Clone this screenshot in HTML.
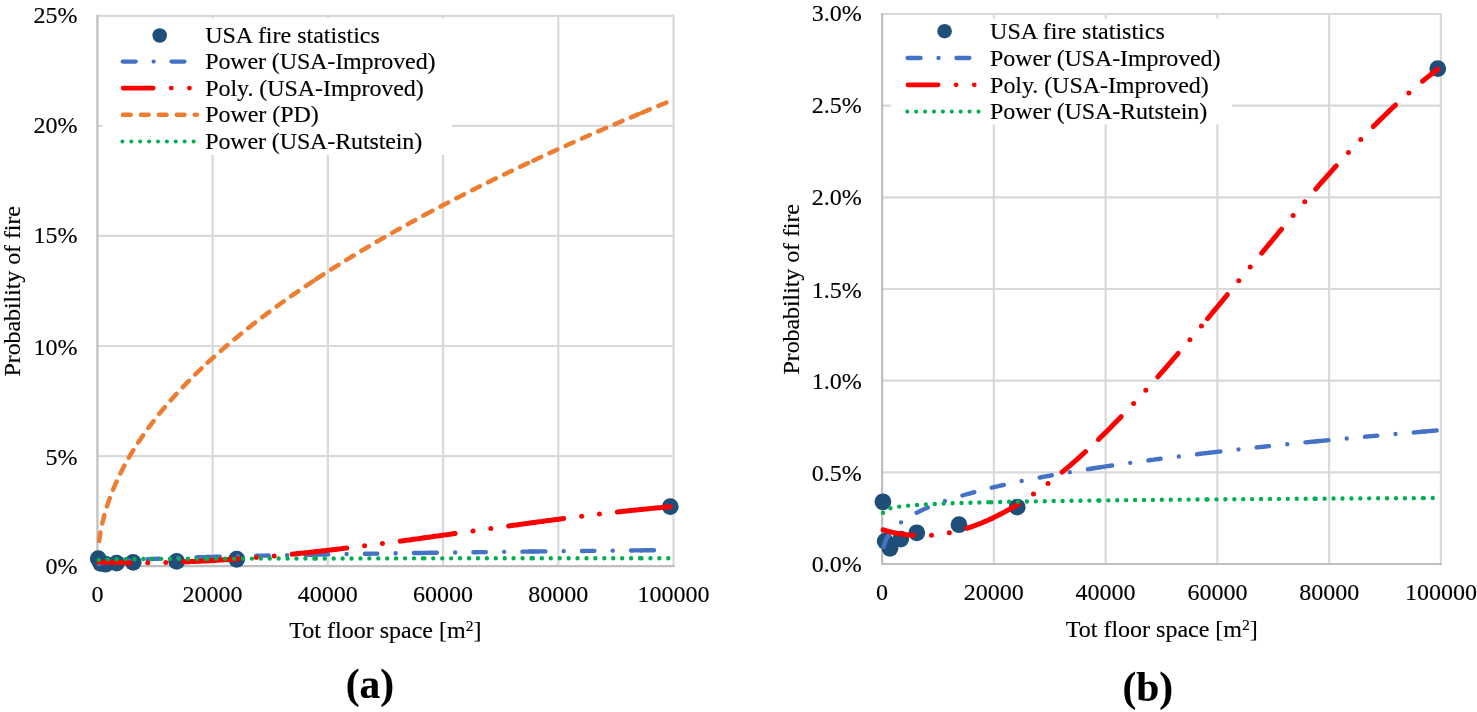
<!DOCTYPE html>
<html lang="en"><head><meta charset="utf-8"><title>Probability of fire vs total floor space</title>
<style>
html,body{margin:0;padding:0;background:#fff;overflow:hidden}
svg{display:block}
svg text{font-family:"Liberation Serif","Times New Roman",serif;font-size:24px;fill:#000;stroke:#000;stroke-width:0.15px}
</style></head><body>
<svg width="1477" height="712" viewBox="0 0 1477 712">
<rect width="1477" height="712" fill="#fff"/>
<line x1="212.62" y1="14.70" x2="212.62" y2="566.10" stroke="#d9d9d9" stroke-width="2.2"/>
<line x1="327.84" y1="14.70" x2="327.84" y2="566.10" stroke="#d9d9d9" stroke-width="2.2"/>
<line x1="443.06" y1="14.70" x2="443.06" y2="566.10" stroke="#d9d9d9" stroke-width="2.2"/>
<line x1="558.28" y1="14.70" x2="558.28" y2="566.10" stroke="#d9d9d9" stroke-width="2.2"/>
<line x1="673.50" y1="14.70" x2="673.50" y2="566.10" stroke="#d9d9d9" stroke-width="2.2"/>
<line x1="97.40" y1="456.04" x2="674.60" y2="456.04" stroke="#d9d9d9" stroke-width="2.2"/>
<line x1="97.40" y1="345.98" x2="674.60" y2="345.98" stroke="#d9d9d9" stroke-width="2.2"/>
<line x1="97.40" y1="235.92" x2="674.60" y2="235.92" stroke="#d9d9d9" stroke-width="2.2"/>
<line x1="97.40" y1="125.86" x2="674.60" y2="125.86" stroke="#d9d9d9" stroke-width="2.2"/>
<line x1="97.40" y1="15.80" x2="674.60" y2="15.80" stroke="#d9d9d9" stroke-width="2.2"/>
<line x1="97.40" y1="14.70" x2="97.40" y2="567.20" stroke="#bfbfbf" stroke-width="2.2"/>
<line x1="96.30" y1="566.10" x2="674.60" y2="566.10" stroke="#bfbfbf" stroke-width="2.2"/>
<circle cx="98.22" cy="558.63" r="8.4" fill="#1f4e79"/>
<circle cx="100.60" cy="563.36" r="8.4" fill="#1f4e79"/>
<circle cx="105.54" cy="564.21" r="8.4" fill="#1f4e79"/>
<circle cx="116.63" cy="563.11" r="8.4" fill="#1f4e79"/>
<circle cx="133.17" cy="562.35" r="8.4" fill="#1f4e79"/>
<circle cx="176.68" cy="561.38" r="8.4" fill="#1f4e79"/>
<circle cx="236.68" cy="559.27" r="8.4" fill="#1f4e79"/>
<circle cx="670.25" cy="506.62" r="8.4" fill="#1f4e79"/>
<path d="M98.80 564.09 L98.80 564.09 L98.81 564.08 L98.82 564.08 L98.84 564.07 L98.86 564.06 L98.88 564.05 L98.91 564.03 L98.95 564.02 L98.99 564.00 L99.03 563.98 L99.08 563.96 L99.13 563.93 L99.19 563.91 L99.25 563.88 L99.31 563.86 L99.38 563.83 L99.46 563.80 L99.54 563.77 L99.62 563.74 L99.71 563.71 L99.81 563.67 L99.91 563.64 L100.01 563.60 L100.12 563.57 L100.23 563.53 L100.34 563.50 L100.47 563.46 L100.59 563.42 L100.72 563.39 L100.86 563.35 L101.00 563.31 L101.14 563.27 L101.29 563.24 L101.44 563.20 L101.60 563.16 L101.76 563.12 L101.93 563.08 L102.10 563.04 L102.27 563.00 L102.45 562.96 L102.64 562.92 L102.83 562.89 L103.02 562.85 L103.22 562.81 L103.43 562.77 L103.63 562.73 L103.85 562.69 L104.06 562.65 L104.28 562.61 L104.51 562.57 L104.74 562.53 L104.98 562.49 L105.22 562.46 L105.46 562.42 L105.71 562.38 L105.96 562.34 L106.22 562.30 L106.48 562.26 L106.75 562.22 L107.02 562.18 L107.30 562.15 L107.58 562.11 L107.87 562.07 L108.16 562.03 L108.45 561.99 L108.75 561.95 L109.05 561.92 L109.36 561.88 L109.67 561.84 L109.99 561.80 L110.31 561.77 L110.64 561.73 L110.97 561.69 L111.31 561.65 L111.65 561.62 L111.99 561.58 L112.34 561.54 L112.70 561.51 L113.06 561.47 L113.42 561.43 L113.79 561.39 L114.16 561.36 L114.54 561.32 L114.92 561.29 L115.30 561.25 L115.69 561.21 L116.09 561.18 L116.49 561.14 L116.89 561.10 L117.30 561.07 L117.71 561.03 L118.13 561.00 L118.56 560.96 L118.98 560.93 L119.41 560.89 L119.85 560.85 L120.29 560.82 L120.74 560.78 L121.19 560.75 L121.64 560.71 L122.10 560.68 L122.56 560.64 L123.03 560.61 L123.50 560.57 L123.98 560.54 L124.46 560.51 L124.95 560.47 L125.44 560.44 L125.94 560.40 L126.44 560.37 L126.94 560.33 L127.45 560.30 L127.97 560.27 L128.48 560.23 L129.01 560.20 L129.53 560.16 L130.07 560.13 L130.60 560.10 L131.15 560.06 L131.69 560.03 L132.24 560.00 L132.80 559.96 L133.36 559.93 L133.92 559.90 L134.49 559.86 L135.06 559.83 L135.64 559.80 L136.22 559.76 L136.81 559.73 L137.40 559.70 L138.00 559.67 L138.60 559.63 L139.20 559.60 L139.81 559.57 L140.43 559.54 L141.05 559.50 L141.67 559.47 L142.30 559.44 L142.93 559.41 L143.57 559.37 L144.21 559.34 L144.86 559.31 L145.51 559.28 L146.16 559.25 L146.82 559.21 L147.49 559.18 L148.16 559.15 L148.83 559.12 L149.51 559.09 L150.19 559.06 L150.88 559.02 L151.57 558.99 L152.27 558.96 L152.97 558.93 L153.68 558.90 L154.39 558.87 L155.10 558.84 L155.82 558.80 L156.54 558.77 L157.27 558.74 L158.01 558.71 L158.74 558.68 L159.49 558.65 L160.23 558.62 L160.98 558.59 L161.74 558.56 L162.50 558.53 L163.27 558.50 L164.04 558.47 L164.81 558.44 L165.59 558.40 L166.37 558.37 L167.16 558.34 L167.95 558.31 L168.75 558.28 L169.55 558.25 L170.36 558.22 L171.17 558.19 L171.99 558.16 L172.81 558.13 L173.63 558.10 L174.46 558.07 L175.29 558.04 L176.13 558.01 L176.97 557.98 L177.82 557.95 L178.67 557.92 L179.53 557.89 L180.39 557.87 L181.26 557.84 L182.13 557.81 L183.00 557.78 L183.88 557.75 L184.76 557.72 L185.65 557.69 L186.55 557.66 L187.44 557.63 L188.35 557.60 L189.25 557.57 L190.16 557.54 L191.08 557.51 L192.00 557.48 L192.93 557.46 L193.86 557.43 L194.79 557.40 L195.73 557.37 L196.67 557.34 L197.62 557.31 L198.57 557.28 L199.53 557.25 L200.49 557.23 L201.46 557.20 L202.43 557.17 L203.40 557.14 L204.38 557.11 L205.37 557.08 L206.36 557.05 L207.35 557.03" fill="none" stroke="#4472c4" stroke-width="4.4" stroke-linecap="round" stroke-dasharray="12.4 18.3 0 18.3"/>
<path d="M207.35 557.03 L208.86 556.98 L210.37 556.94 L211.87 556.90 L213.38 556.86 L214.89 556.82 L216.40 556.77 L217.90 556.73 L219.41 556.69 L220.92 556.65 L222.43 556.61 L223.93 556.58 L225.44 556.54 L226.95 556.50 L228.46 556.46 L229.96 556.42 L231.47 556.38 L232.98 556.35 L234.49 556.31 L236.00 556.27 L237.50 556.23 L239.01 556.20 L240.52 556.16 L242.03 556.13 L243.53 556.09 L245.04 556.05 L246.55 556.02 L248.06 555.98 L249.56 555.95 L251.07 555.91 L252.58 555.88 L254.09 555.85 L255.59 555.81 L257.10 555.78 L258.61 555.75 L260.12 555.71 L261.62 555.68 L263.13 555.65 L264.64 555.61 L266.15 555.58 L267.66 555.55 L269.16 555.52 L270.67 555.48 L272.18 555.45 L273.69 555.42 L275.19 555.39 L276.70 555.36 L278.21 555.33 L279.72 555.30 L281.22 555.27 L282.73 555.23 L284.24 555.20 L285.75 555.17 L287.25 555.14 L288.76 555.11 L290.27 555.08 L291.78 555.05 L293.29 555.03 L294.79 555.00 L296.30 554.97 L297.81 554.94 L299.32 554.91 L300.82 554.88 L302.33 554.85 L303.84 554.82 L305.35 554.79 L306.85 554.77 L308.36 554.74 L309.87 554.71 L311.38 554.68 L312.88 554.65 L314.39 554.63 L315.90 554.60" fill="none" stroke="#4472c4" stroke-width="4.4" stroke-linecap="round" stroke-dasharray="12.4 18.3 0 18.3"/>
<path d="M315.90 554.60 L317.41 554.57 L318.92 554.55 L320.42 554.52 L321.93 554.49 L323.44 554.46 L324.95 554.44 L326.45 554.41 L327.96 554.38 L329.47 554.36 L330.98 554.33 L332.48 554.31 L333.99 554.28 L335.50 554.25 L337.01 554.23 L338.51 554.20 L340.02 554.18 L341.53 554.15 L343.04 554.13 L344.55 554.10 L346.05 554.08 L347.56 554.05 L349.07 554.03 L350.58 554.00 L352.08 553.98 L353.59 553.95 L355.10 553.93 L356.61 553.90 L358.11 553.88 L359.62 553.85 L361.13 553.83 L362.64 553.80 L364.14 553.78 L365.65 553.76 L367.16 553.73 L368.67 553.71 L370.17 553.69 L371.68 553.66 L373.19 553.64 L374.70 553.61 L376.21 553.59 L377.71 553.57 L379.22 553.54 L380.73 553.52 L382.24 553.50 L383.74 553.48 L385.25 553.45 L386.76 553.43 L388.27 553.41 L389.77 553.38 L391.28 553.36 L392.79 553.34 L394.30 553.32 L395.80 553.29 L397.31 553.27 L398.82 553.25 L400.33 553.23 L401.84 553.21 L403.34 553.18 L404.85 553.16 L406.36 553.14 L407.87 553.12 L409.37 553.10 L410.88 553.07 L412.39 553.05 L413.90 553.03 L415.40 553.01 L416.91 552.99 L418.42 552.97 L419.93 552.95 L421.43 552.93 L422.94 552.90 L424.45 552.88" fill="none" stroke="#4472c4" stroke-width="4.4" stroke-linecap="round" stroke-dasharray="12.4 18.3 0 18.3"/>
<path d="M424.45 552.88 L425.96 552.86 L427.47 552.84 L428.97 552.82 L430.48 552.80 L431.99 552.78 L433.50 552.76 L435.00 552.74 L436.51 552.72 L438.02 552.70 L439.53 552.68 L441.03 552.66 L442.54 552.64 L444.05 552.61 L445.56 552.59 L447.06 552.57 L448.57 552.55 L450.08 552.53 L451.59 552.51 L453.10 552.49 L454.60 552.47 L456.11 552.45 L457.62 552.44 L459.13 552.42 L460.63 552.40 L462.14 552.38 L463.65 552.36 L465.16 552.34 L466.66 552.32 L468.17 552.30 L469.68 552.28 L471.19 552.26 L472.69 552.24 L474.20 552.22 L475.71 552.20 L477.22 552.18 L478.73 552.16 L480.23 552.15 L481.74 552.13 L483.25 552.11 L484.76 552.09 L486.26 552.07 L487.77 552.05 L489.28 552.03 L490.79 552.01 L492.29 551.99 L493.80 551.98 L495.31 551.96 L496.82 551.94 L498.32 551.92 L499.83 551.90 L501.34 551.88 L502.85 551.87 L504.35 551.85 L505.86 551.83 L507.37 551.81 L508.88 551.79 L510.39 551.78 L511.89 551.76 L513.40 551.74 L514.91 551.72 L516.42 551.70 L517.92 551.69 L519.43 551.67 L520.94 551.65 L522.45 551.63 L523.95 551.61 L525.46 551.60 L526.97 551.58 L528.48 551.56 L529.98 551.54 L531.49 551.53 L533.00 551.51" fill="none" stroke="#4472c4" stroke-width="4.4" stroke-linecap="round" stroke-dasharray="12.4 18.3 0 18.3"/>
<path d="M533.00 551.51 L534.51 551.49 L536.02 551.47 L537.52 551.46 L539.03 551.44 L540.54 551.42 L542.05 551.41 L543.55 551.39 L545.06 551.37 L546.57 551.35 L548.08 551.34 L549.58 551.32 L551.09 551.30 L552.60 551.29 L554.11 551.27 L555.61 551.25 L557.12 551.24 L558.63 551.22 L560.14 551.20 L561.65 551.19 L563.15 551.17 L564.66 551.15 L566.17 551.14 L567.68 551.12 L569.18 551.10 L570.69 551.09 L572.20 551.07 L573.71 551.05 L575.21 551.04 L576.72 551.02 L578.23 551.00 L579.74 550.99 L581.24 550.97 L582.75 550.95 L584.26 550.94 L585.77 550.92 L587.27 550.91 L588.78 550.89 L590.29 550.87 L591.80 550.86 L593.31 550.84 L594.81 550.83 L596.32 550.81 L597.83 550.79 L599.34 550.78 L600.84 550.76 L602.35 550.75 L603.86 550.73 L605.37 550.71 L606.87 550.70 L608.38 550.68 L609.89 550.67 L611.40 550.65 L612.90 550.64 L614.41 550.62 L615.92 550.61 L617.43 550.59 L618.94 550.57 L620.44 550.56 L621.95 550.54 L623.46 550.53 L624.97 550.51 L626.47 550.50 L627.98 550.48 L629.49 550.47 L631.00 550.45 L632.50 550.44 L634.01 550.42 L635.52 550.41 L637.03 550.39 L638.53 550.38 L640.04 550.36 L641.55 550.35" fill="none" stroke="#4472c4" stroke-width="4.4" stroke-linecap="round" stroke-dasharray="12.4 18.3 0 18.3"/>
<path d="M641.55 550.35 L643.06 550.33 L644.58 550.31 L646.09 550.30 L647.61 550.28 L649.12 550.27 L650.64 550.25 L652.15 550.24 L653.67 550.23 L655.18 550.21 L656.70 550.20 L658.21 550.18 L659.73 550.17 L661.24 550.15 L662.76 550.14 L664.27 550.12 L665.79 550.11 L667.30 550.09 L668.82 550.08 L670.33 550.06" fill="none" stroke="#4472c4" stroke-width="4.4" stroke-linecap="round" stroke-dasharray="12.4 18.3 0 18.3"/>
<path d="M98.80 562.02 L98.80 562.02 L98.81 562.02 L98.82 562.02 L98.84 562.02 L98.86 562.02 L98.88 562.02 L98.91 562.02 L98.95 562.02 L98.99 562.02 L99.03 562.02 L99.08 562.02 L99.13 562.03 L99.19 562.03 L99.25 562.03 L99.31 562.03 L99.38 562.04 L99.46 562.04 L99.54 562.04 L99.62 562.04 L99.71 562.05 L99.81 562.05 L99.91 562.05 L100.01 562.06 L100.12 562.06 L100.23 562.06 L100.34 562.07 L100.47 562.07 L100.59 562.08 L100.72 562.08 L100.86 562.09 L101.00 562.09 L101.14 562.09 L101.29 562.10 L101.44 562.10 L101.60 562.11 L101.76 562.11 L101.93 562.12 L102.10 562.13 L102.27 562.13 L102.45 562.14 L102.64 562.14 L102.83 562.15 L103.02 562.15 L103.22 562.16 L103.43 562.17 L103.63 562.17 L103.85 562.18 L104.06 562.19 L104.28 562.19 L104.51 562.20 L104.74 562.21 L104.98 562.21 L105.22 562.22 L105.46 562.23 L105.71 562.24 L105.96 562.24 L106.22 562.25 L106.48 562.26 L106.75 562.26 L107.02 562.27 L107.30 562.28 L107.58 562.29 L107.87 562.29 L108.16 562.30 L108.45 562.31 L108.75 562.32 L109.05 562.33 L109.36 562.33 L109.67 562.34 L109.99 562.35 L110.31 562.36 L110.64 562.36 L110.97 562.37 L111.31 562.38 L111.65 562.39 L111.99 562.40 L112.34 562.40 L112.70 562.41 L113.06 562.42 L113.42 562.43 L113.79 562.44 L114.16 562.44 L114.54 562.45 L114.92 562.46 L115.30 562.47 L115.69 562.48 L116.09 562.48 L116.49 562.49 L116.89 562.50 L117.30 562.51 L117.71 562.51 L118.13 562.52 L118.56 562.53 L118.98 562.53 L119.41 562.54 L119.85 562.55 L120.29 562.56 L120.74 562.56 L121.19 562.57 L121.64 562.58 L122.10 562.58 L122.56 562.59 L123.03 562.59 L123.50 562.60 L123.98 562.61 L124.46 562.61 L124.95 562.62 L125.44 562.62 L125.94 562.63 L126.44 562.63 L126.94 562.64 L127.45 562.64 L127.97 562.65 L128.48 562.65 L129.01 562.66 L129.53 562.66 L130.07 562.66 L130.60 562.67 L131.15 562.67 L131.69 562.67 L132.24 562.68 L132.80 562.68 L133.36 562.68 L133.92 562.68 L134.49 562.69 L135.06 562.69 L135.64 562.69 L136.22 562.69 L136.81 562.69 L137.40 562.69 L138.00 562.69 L138.60 562.69 L139.20 562.69 L139.81 562.69 L140.43 562.69 L141.05 562.69 L141.67 562.69 L142.30 562.68 L142.93 562.68 L143.57 562.68 L144.21 562.68 L144.86 562.67 L145.51 562.67 L146.16 562.66 L146.82 562.66 L147.49 562.65 L148.16 562.65 L148.83 562.64 L149.51 562.64 L150.19 562.63 L150.88 562.62 L151.57 562.62 L152.27 562.61 L152.97 562.60 L153.68 562.59 L154.39 562.58 L155.10 562.57 L155.82 562.56 L156.54 562.55 L157.27 562.54 L158.01 562.53 L158.74 562.52 L159.49 562.50 L160.23 562.49 L160.98 562.48 L161.74 562.46 L162.50 562.45 L163.27 562.43 L164.04 562.41 L164.81 562.40 L165.59 562.38 L166.37 562.36 L167.16 562.35 L167.95 562.33 L168.75 562.31 L169.55 562.29 L170.36 562.27 L171.17 562.24 L171.99 562.22 L172.81 562.20 L173.63 562.18 L174.46 562.15 L175.29 562.13 L176.13 562.10 L176.97 562.08 L177.82 562.05 L178.67 562.02 L179.53 562.00 L180.39 561.97 L181.26 561.94 L182.13 561.91 L183.00 561.88 L183.88 561.85 L184.76 561.81 L185.65 561.78 L186.55 561.75 L187.44 561.71 L188.35 561.68 L189.25 561.64 L190.16 561.60 L191.08 561.57 L192.00 561.53 L192.93 561.49 L193.86 561.45 L194.79 561.41 L195.73 561.37 L196.67 561.32 L197.62 561.28 L198.57 561.24 L199.53 561.19 L200.49 561.15 L201.46 561.10 L202.43 561.05 L203.40 561.00 L204.38 560.96 L205.37 560.91 L206.36 560.85 L207.35 560.80" fill="none" stroke="#ff0000" stroke-width="5.0" stroke-linecap="round" stroke-dasharray="31 18 0 18 0 18"/>
<path d="M207.35 560.80 L208.86 560.72 L210.37 560.64 L211.87 560.56 L213.38 560.47 L214.89 560.39 L216.40 560.30 L217.90 560.21 L219.41 560.12 L220.92 560.03 L222.43 559.93 L223.93 559.84 L225.44 559.74 L226.95 559.64 L228.46 559.55 L229.96 559.44 L231.47 559.34 L232.98 559.24 L234.49 559.13 L236.00 559.03 L237.50 558.92 L239.01 558.81 L240.52 558.70 L242.03 558.59 L243.53 558.48 L245.04 558.36 L246.55 558.25 L248.06 558.13 L249.56 558.01 L251.07 557.89 L252.58 557.77 L254.09 557.65 L255.59 557.53 L257.10 557.40 L258.61 557.28 L260.12 557.15 L261.62 557.02 L263.13 556.89 L264.64 556.76 L266.15 556.63 L267.66 556.49 L269.16 556.36 L270.67 556.22 L272.18 556.09 L273.69 555.95 L275.19 555.81 L276.70 555.67 L278.21 555.53 L279.72 555.39 L281.22 555.24 L282.73 555.10 L284.24 554.95 L285.75 554.81 L287.25 554.66 L288.76 554.51 L290.27 554.36 L291.78 554.21 L293.29 554.06 L294.79 553.90 L296.30 553.75 L297.81 553.59 L299.32 553.44 L300.82 553.28 L302.33 553.12 L303.84 552.96 L305.35 552.80 L306.85 552.64 L308.36 552.48 L309.87 552.32 L311.38 552.15 L312.88 551.99 L314.39 551.82 L315.90 551.66" fill="none" stroke="#ff0000" stroke-width="5.0" stroke-linecap="round" stroke-dasharray="31 18 0 18 0 18"/>
<path d="M315.90 551.66 L317.41 551.49 L318.92 551.32 L320.42 551.15 L321.93 550.98 L323.44 550.81 L324.95 550.64 L326.45 550.46 L327.96 550.29 L329.47 550.11 L330.98 549.94 L332.48 549.76 L333.99 549.59 L335.50 549.41 L337.01 549.23 L338.51 549.05 L340.02 548.87 L341.53 548.69 L343.04 548.51 L344.55 548.32 L346.05 548.14 L347.56 547.96 L349.07 547.77 L350.58 547.59 L352.08 547.40 L353.59 547.21 L355.10 547.03 L356.61 546.84 L358.11 546.65 L359.62 546.46 L361.13 546.27 L362.64 546.08 L364.14 545.89 L365.65 545.70 L367.16 545.50 L368.67 545.31 L370.17 545.12 L371.68 544.92 L373.19 544.73 L374.70 544.53 L376.21 544.34 L377.71 544.14 L379.22 543.94 L380.73 543.74 L382.24 543.55 L383.74 543.35 L385.25 543.15 L386.76 542.95 L388.27 542.75 L389.77 542.55 L391.28 542.35 L392.79 542.14 L394.30 541.94 L395.80 541.74 L397.31 541.54 L398.82 541.33 L400.33 541.13 L401.84 540.93 L403.34 540.72 L404.85 540.52 L406.36 540.31 L407.87 540.11 L409.37 539.90 L410.88 539.69 L412.39 539.49 L413.90 539.28 L415.40 539.07 L416.91 538.86 L418.42 538.66 L419.93 538.45 L421.43 538.24 L422.94 538.03 L424.45 537.82" fill="none" stroke="#ff0000" stroke-width="5.0" stroke-linecap="round" stroke-dasharray="31 18 0 18 0 18"/>
<path d="M424.45 537.82 L425.96 537.61 L427.47 537.40 L428.97 537.19 L430.48 536.98 L431.99 536.77 L433.50 536.56 L435.00 536.35 L436.51 536.14 L438.02 535.93 L439.53 535.72 L441.03 535.50 L442.54 535.29 L444.05 535.08 L445.56 534.87 L447.06 534.66 L448.57 534.44 L450.08 534.23 L451.59 534.02 L453.10 533.81 L454.60 533.59 L456.11 533.38 L457.62 533.17 L459.13 532.95 L460.63 532.74 L462.14 532.53 L463.65 532.32 L465.16 532.10 L466.66 531.89 L468.17 531.68 L469.68 531.46 L471.19 531.25 L472.69 531.04 L474.20 530.82 L475.71 530.61 L477.22 530.40 L478.73 530.18 L480.23 529.97 L481.74 529.76 L483.25 529.55 L484.76 529.33 L486.26 529.12 L487.77 528.91 L489.28 528.70 L490.79 528.48 L492.29 528.27 L493.80 528.06 L495.31 527.85 L496.82 527.64 L498.32 527.42 L499.83 527.21 L501.34 527.00 L502.85 526.79 L504.35 526.58 L505.86 526.37 L507.37 526.16 L508.88 525.95 L510.39 525.74 L511.89 525.53 L513.40 525.32 L514.91 525.11 L516.42 524.90 L517.92 524.69 L519.43 524.49 L520.94 524.28 L522.45 524.07 L523.95 523.86 L525.46 523.66 L526.97 523.45 L528.48 523.24 L529.98 523.04 L531.49 522.83 L533.00 522.63" fill="none" stroke="#ff0000" stroke-width="5.0" stroke-linecap="round" stroke-dasharray="31 18 0 18 0 18"/>
<path d="M533.00 522.63 L534.51 522.42 L536.02 522.22 L537.52 522.01 L539.03 521.81 L540.54 521.61 L542.05 521.41 L543.55 521.20 L545.06 521.00 L546.57 520.80 L548.08 520.60 L549.58 520.40 L551.09 520.20 L552.60 520.00 L554.11 519.80 L555.61 519.60 L557.12 519.40 L558.63 519.21 L560.14 519.01 L561.65 518.81 L563.15 518.62 L564.66 518.42 L566.17 518.23 L567.68 518.03 L569.18 517.84 L570.69 517.65 L572.20 517.46 L573.71 517.27 L575.21 517.07 L576.72 516.88 L578.23 516.69 L579.74 516.51 L581.24 516.32 L582.75 516.13 L584.26 515.94 L585.77 515.76 L587.27 515.57 L588.78 515.39 L590.29 515.20 L591.80 515.02 L593.31 514.84 L594.81 514.65 L596.32 514.47 L597.83 514.29 L599.34 514.11 L600.84 513.93 L602.35 513.75 L603.86 513.58 L605.37 513.40 L606.87 513.23 L608.38 513.05 L609.89 512.88 L611.40 512.70 L612.90 512.53 L614.41 512.36 L615.92 512.19 L617.43 512.02 L618.94 511.85 L620.44 511.68 L621.95 511.51 L623.46 511.35 L624.97 511.18 L626.47 511.02 L627.98 510.86 L629.49 510.69 L631.00 510.53 L632.50 510.37 L634.01 510.21 L635.52 510.05 L637.03 509.90 L638.53 509.74 L640.04 509.58 L641.55 509.43" fill="none" stroke="#ff0000" stroke-width="5.0" stroke-linecap="round" stroke-dasharray="31 18 0 18 0 18"/>
<path d="M641.55 509.43 L643.06 509.27 L644.58 509.12 L646.09 508.97 L647.61 508.82 L649.12 508.67 L650.64 508.52 L652.15 508.37 L653.67 508.22 L655.18 508.08 L656.70 507.93 L658.21 507.79 L659.73 507.65 L661.24 507.51 L662.76 507.37 L664.27 507.23 L665.79 507.09 L667.30 506.95 L668.82 506.82 L670.33 506.69" fill="none" stroke="#ff0000" stroke-width="5.0" stroke-linecap="round" stroke-dasharray="31 18 0 18 0 18"/>
<path d="M99.10 541.02 L99.10 541.00 L99.11 540.95 L99.12 540.86 L99.14 540.75 L99.16 540.60 L99.18 540.41 L99.21 540.20 L99.25 539.96 L99.29 539.68 L99.33 539.38 L99.38 539.05 L99.43 538.69 L99.49 538.30 L99.55 537.89 L99.61 537.46 L99.68 537.01 L99.76 536.53 L99.84 536.03 L99.92 535.51 L100.01 534.97 L100.11 534.42 L100.21 533.85 L100.31 533.26 L100.42 532.66 L100.53 532.04 L100.64 531.41 L100.77 530.77 L100.89 530.11 L101.02 529.44 L101.16 528.77 L101.30 528.08 L101.44 527.38 L101.59 526.67 L101.74 525.95 L101.90 525.23 L102.06 524.50 L102.23 523.76 L102.40 523.01 L102.57 522.26 L102.75 521.49 L102.94 520.73 L103.13 519.96 L103.32 519.18 L103.52 518.39 L103.73 517.61 L103.93 516.81 L104.15 516.02 L104.36 515.21 L104.58 514.41 L104.81 513.60 L105.04 512.78 L105.28 511.97 L105.52 511.15 L105.76 510.32 L106.01 509.49 L106.26 508.66 L106.52 507.83 L106.78 507.00 L107.05 506.16 L107.32 505.32 L107.60 504.47 L107.88 503.63 L108.17 502.78 L108.46 501.93 L108.75 501.07 L109.05 500.22 L109.35 499.36 L109.66 498.51 L109.97 497.65 L110.29 496.78 L110.61 495.92 L110.94 495.06 L111.27 494.19 L111.61 493.32 L111.95 492.45 L112.29 491.58 L112.64 490.71 L113.00 489.84 L113.36 488.96 L113.72 488.08 L114.09 487.21 L114.46 486.33 L114.84 485.45 L115.22 484.57 L115.60 483.69 L115.99 482.81 L116.39 481.92 L116.79 481.04 L117.19 480.15 L117.60 479.27 L118.01 478.38 L118.43 477.49 L118.86 476.60 L119.28 475.71 L119.71 474.82 L120.15 473.93 L120.59 473.04 L121.04 472.15 L121.49 471.25 L121.94 470.36 L122.40 469.47 L122.86 468.57 L123.33 467.67 L123.80 466.78 L124.28 465.88 L124.76 464.98 L125.25 464.09 L125.74 463.19 L126.24 462.29 L126.74 461.39 L127.24 460.49 L127.75 459.59 L128.27 458.69 L128.78 457.79 L129.31 456.88 L129.83 455.98 L130.37 455.08 L130.90 454.18 L131.45 453.27 L131.99 452.37 L132.54 451.46 L133.10 450.56 L133.66 449.65 L134.22 448.75 L134.79 447.84 L135.36 446.94 L135.94 446.03 L136.52 445.12 L137.11 444.21 L137.70 443.31 L138.30 442.40 L138.90 441.49 L139.50 440.58 L140.11 439.67 L140.73 438.76 L141.35 437.86 L141.97 436.95 L142.60 436.04 L143.23 435.13 L143.87 434.21 L144.51 433.30 L145.16 432.39 L145.81 431.48 L146.46 430.57 L147.12 429.66 L147.79 428.75 L148.46 427.83 L149.13 426.92 L149.81 426.01 L150.49 425.10 L151.18 424.18 L151.87 423.27 L152.57 422.36 L153.27 421.44 L153.98 420.53 L154.69 419.61 L155.40 418.70 L156.12 417.79 L156.84 416.87 L157.57 415.96 L158.31 415.04 L159.04 414.13 L159.79 413.21 L160.53 412.29 L161.28 411.38 L162.04 410.46 L162.80 409.55 L163.57 408.63 L164.34 407.71 L165.11 406.80 L165.89 405.88 L166.67 404.96 L167.46 404.05 L168.25 403.13 L169.05 402.21 L169.85 401.29 L170.66 400.38 L171.47 399.46 L172.29 398.54 L173.11 397.62 L173.93 396.70 L174.76 395.79 L175.59 394.87 L176.43 393.95 L177.27 393.03 L178.12 392.11 L178.97 391.19 L179.83 390.27 L180.69 389.36 L181.56 388.44 L182.43 387.52 L183.30 386.60 L184.18 385.68 L185.06 384.76 L185.95 383.84 L186.85 382.92 L187.74 382.00 L188.65 381.08 L189.55 380.16 L190.46 379.24 L191.38 378.32 L192.30 377.40 L193.23 376.48 L194.16 375.56 L195.09 374.63 L196.03 373.71 L196.97 372.79 L197.92 371.87 L198.87 370.95 L199.83 370.03 L200.79 369.11 L201.76 368.19 L202.73 367.27 L203.70 366.34 L204.68 365.42 L205.67 364.50 L206.66 363.58 L207.65 362.66" fill="none" stroke="#ed7d31" stroke-width="4.5" stroke-linecap="round" stroke-dasharray="8.7 9.1"/>
<path d="M207.65 362.66 L209.16 361.27 L210.67 359.88 L212.17 358.51 L213.68 357.15 L215.19 355.79 L216.70 354.45 L218.20 353.11 L219.71 351.78 L221.22 350.46 L222.73 349.14 L224.23 347.84 L225.74 346.54 L227.25 345.25 L228.76 343.97 L230.26 342.69 L231.77 341.42 L233.28 340.16 L234.79 338.91 L236.30 337.66 L237.80 336.42 L239.31 335.19 L240.82 333.96 L242.33 332.74 L243.83 331.52 L245.34 330.31 L246.85 329.11 L248.36 327.92 L249.86 326.73 L251.37 325.54 L252.88 324.36 L254.39 323.19 L255.89 322.02 L257.40 320.86 L258.91 319.70 L260.42 318.55 L261.92 317.41 L263.43 316.26 L264.94 315.13 L266.45 314.00 L267.96 312.87 L269.46 311.75 L270.97 310.64 L272.48 309.53 L273.99 308.42 L275.49 307.32 L277.00 306.22 L278.51 305.13 L280.02 304.04 L281.52 302.96 L283.03 301.88 L284.54 300.81 L286.05 299.74 L287.55 298.67 L289.06 297.61 L290.57 296.55 L292.08 295.50 L293.59 294.45 L295.09 293.40 L296.60 292.36 L298.11 291.32 L299.62 290.29 L301.12 289.26 L302.63 288.23 L304.14 287.21 L305.65 286.19 L307.15 285.18 L308.66 284.17 L310.17 283.16 L311.68 282.16 L313.18 281.15 L314.69 280.16 L316.20 279.16" fill="none" stroke="#ed7d31" stroke-width="4.5" stroke-linecap="round" stroke-dasharray="8.7 9.1"/>
<path d="M316.20 279.16 L317.71 278.17 L319.22 277.19 L320.72 276.20 L322.23 275.22 L323.74 274.25 L325.25 273.27 L326.75 272.30 L328.26 271.33 L329.77 270.37 L331.28 269.41 L332.78 268.45 L334.29 267.50 L335.80 266.54 L337.31 265.60 L338.81 264.65 L340.32 263.71 L341.83 262.77 L343.34 261.83 L344.85 260.90 L346.35 259.96 L347.86 259.03 L349.37 258.11 L350.88 257.19 L352.38 256.27 L353.89 255.35 L355.40 254.43 L356.91 253.52 L358.41 252.61 L359.92 251.70 L361.43 250.80 L362.94 249.90 L364.44 249.00 L365.95 248.10 L367.46 247.21 L368.97 246.31 L370.48 245.42 L371.98 244.54 L373.49 243.65 L375.00 242.77 L376.51 241.89 L378.01 241.01 L379.52 240.14 L381.03 239.27 L382.54 238.40 L384.04 237.53 L385.55 236.66 L387.06 235.80 L388.57 234.94 L390.07 234.08 L391.58 233.22 L393.09 232.37 L394.60 231.51 L396.10 230.66 L397.61 229.81 L399.12 228.97 L400.63 228.12 L402.14 227.28 L403.64 226.44 L405.15 225.60 L406.66 224.77 L408.17 223.93 L409.67 223.10 L411.18 222.27 L412.69 221.44 L414.20 220.62 L415.70 219.79 L417.21 218.97 L418.72 218.15 L420.23 217.33 L421.73 216.52 L423.24 215.70 L424.75 214.89" fill="none" stroke="#ed7d31" stroke-width="4.5" stroke-linecap="round" stroke-dasharray="8.7 9.1"/>
<path d="M424.75 214.89 L426.26 214.08 L427.77 213.27 L429.27 212.47 L430.78 211.66 L432.29 210.86 L433.80 210.06 L435.30 209.26 L436.81 208.46 L438.32 207.66 L439.83 206.87 L441.33 206.07 L442.84 205.28 L444.35 204.49 L445.86 203.71 L447.36 202.92 L448.87 202.14 L450.38 201.36 L451.89 200.57 L453.40 199.80 L454.90 199.02 L456.41 198.24 L457.92 197.47 L459.43 196.70 L460.93 195.92 L462.44 195.15 L463.95 194.39 L465.46 193.62 L466.96 192.86 L468.47 192.09 L469.98 191.33 L471.49 190.57 L472.99 189.81 L474.50 189.06 L476.01 188.30 L477.52 187.55 L479.02 186.79 L480.53 186.04 L482.04 185.29 L483.55 184.54 L485.06 183.80 L486.56 183.05 L488.07 182.31 L489.58 181.57 L491.09 180.83 L492.59 180.09 L494.10 179.35 L495.61 178.61 L497.12 177.88 L498.62 177.14 L500.13 176.41 L501.64 175.68 L503.15 174.95 L504.65 174.22 L506.16 173.49 L507.67 172.77 L509.18 172.04 L510.69 171.32 L512.19 170.60 L513.70 169.88 L515.21 169.16 L516.72 168.44 L518.22 167.72 L519.73 167.01 L521.24 166.29 L522.75 165.58 L524.25 164.87 L525.76 164.16 L527.27 163.45 L528.78 162.74 L530.28 162.04 L531.79 161.33 L533.30 160.63" fill="none" stroke="#ed7d31" stroke-width="4.5" stroke-linecap="round" stroke-dasharray="8.7 9.1"/>
<path d="M533.30 160.63 L534.81 159.92 L536.32 159.22 L537.82 158.52 L539.33 157.82 L540.84 157.12 L542.35 156.43 L543.85 155.73 L545.36 155.04 L546.87 154.34 L548.38 153.65 L549.88 152.96 L551.39 152.27 L552.90 151.58 L554.41 150.89 L555.91 150.20 L557.42 149.52 L558.93 148.83 L560.44 148.15 L561.95 147.47 L563.45 146.79 L564.96 146.11 L566.47 145.43 L567.98 144.75 L569.48 144.07 L570.99 143.40 L572.50 142.72 L574.01 142.05 L575.51 141.38 L577.02 140.71 L578.53 140.04 L580.04 139.37 L581.54 138.70 L583.05 138.03 L584.56 137.37 L586.07 136.70 L587.57 136.04 L589.08 135.37 L590.59 134.71 L592.10 134.05 L593.61 133.39 L595.11 132.73 L596.62 132.07 L598.13 131.42 L599.64 130.76 L601.14 130.10 L602.65 129.45 L604.16 128.80 L605.67 128.15 L607.17 127.49 L608.68 126.84 L610.19 126.19 L611.70 125.55 L613.20 124.90 L614.71 124.25 L616.22 123.61 L617.73 122.96 L619.24 122.32 L620.74 121.68 L622.25 121.03 L623.76 120.39 L625.27 119.75 L626.77 119.11 L628.28 118.48 L629.79 117.84 L631.30 117.20 L632.80 116.57 L634.31 115.93 L635.82 115.30 L637.33 114.66 L638.83 114.03 L640.34 113.40 L641.85 112.77" fill="none" stroke="#ed7d31" stroke-width="4.5" stroke-linecap="round" stroke-dasharray="8.7 9.1"/>
<path d="M641.85 112.77 L643.41 112.12 L644.97 111.47 L646.52 110.82 L648.08 110.18 L649.64 109.53 L651.20 108.88 L652.75 108.24 L654.31 107.59 L655.87 106.95 L657.43 106.31 L658.99 105.67 L660.54 105.03 L662.10 104.39 L663.66 103.75 L665.22 103.11 L666.77 102.48 L668.33 101.84" fill="none" stroke="#ed7d31" stroke-width="4.5" stroke-linecap="round" stroke-dasharray="8.7 9.1"/>
<path d="M98.75 559.88 L98.75 559.88 L98.76 559.88 L98.77 559.88 L98.79 559.88 L98.81 559.87 L98.83 559.87 L98.86 559.86 L98.90 559.86 L98.94 559.85 L98.98 559.84 L99.03 559.84 L99.08 559.83 L99.14 559.82 L99.20 559.81 L99.26 559.80 L99.33 559.79 L99.41 559.78 L99.49 559.77 L99.57 559.76 L99.66 559.75 L99.76 559.74 L99.86 559.73 L99.96 559.72 L100.07 559.71 L100.18 559.70 L100.29 559.69 L100.42 559.68 L100.54 559.67 L100.67 559.66 L100.81 559.65 L100.95 559.64 L101.09 559.63 L101.24 559.62 L101.39 559.61 L101.55 559.60 L101.71 559.59 L101.88 559.58 L102.05 559.57 L102.22 559.56 L102.40 559.55 L102.59 559.54 L102.78 559.53 L102.97 559.52 L103.17 559.51 L103.38 559.50 L103.58 559.49 L103.80 559.48 L104.01 559.47 L104.23 559.46 L104.46 559.46 L104.69 559.45 L104.93 559.44 L105.17 559.43 L105.41 559.42 L105.66 559.41 L105.91 559.41 L106.17 559.40 L106.43 559.39 L106.70 559.38 L106.97 559.37 L107.25 559.37 L107.53 559.36 L107.82 559.35 L108.11 559.34 L108.40 559.34 L108.70 559.33 L109.00 559.32 L109.31 559.32 L109.62 559.31 L109.94 559.30 L110.26 559.29 L110.59 559.29 L110.92 559.28 L111.26 559.27 L111.60 559.27 L111.94 559.26 L112.29 559.25 L112.65 559.25 L113.01 559.24 L113.37 559.24 L113.74 559.23 L114.11 559.22 L114.49 559.22 L114.87 559.21 L115.25 559.21 L115.64 559.20 L116.04 559.19 L116.44 559.19 L116.84 559.18 L117.25 559.18 L117.66 559.17 L118.08 559.16 L118.51 559.16 L118.93 559.15 L119.36 559.15 L119.80 559.14 L120.24 559.14 L120.69 559.13 L121.14 559.13 L121.59 559.12 L122.05 559.12 L122.51 559.11 L122.98 559.11 L123.45 559.10 L123.93 559.10 L124.41 559.09 L124.90 559.08 L125.39 559.08 L125.89 559.08 L126.39 559.07 L126.89 559.07 L127.40 559.06 L127.92 559.06 L128.43 559.05 L128.96 559.05 L129.48 559.04 L130.02 559.04 L130.55 559.03 L131.10 559.03 L131.64 559.02 L132.19 559.02 L132.75 559.01 L133.31 559.01 L133.87 559.01 L134.44 559.00 L135.01 559.00 L135.59 558.99 L136.17 558.99 L136.76 558.98 L137.35 558.98 L137.95 558.98 L138.55 558.97 L139.15 558.97 L139.76 558.96 L140.38 558.96 L141.00 558.95 L141.62 558.95 L142.25 558.95 L142.88 558.94 L143.52 558.94 L144.16 558.93 L144.81 558.93 L145.46 558.93 L146.11 558.92 L146.77 558.92 L147.44 558.91 L148.11 558.91 L148.78 558.91 L149.46 558.90 L150.14 558.90 L150.83 558.90 L151.52 558.89 L152.22 558.89 L152.92 558.89 L153.63 558.88 L154.34 558.88 L155.05 558.87 L155.77 558.87 L156.49 558.87 L157.22 558.86 L157.96 558.86 L158.69 558.86 L159.44 558.85 L160.18 558.85 L160.93 558.85 L161.69 558.84 L162.45 558.84 L163.22 558.84 L163.99 558.83 L164.76 558.83 L165.54 558.83 L166.32 558.82 L167.11 558.82 L167.90 558.82 L168.70 558.81 L169.50 558.81 L170.31 558.81 L171.12 558.80 L171.94 558.80 L172.76 558.80 L173.58 558.79 L174.41 558.79 L175.24 558.79 L176.08 558.78 L176.92 558.78 L177.77 558.78 L178.62 558.77 L179.48 558.77 L180.34 558.77 L181.21 558.77 L182.08 558.76 L182.95 558.76 L183.83 558.76 L184.71 558.75 L185.60 558.75 L186.50 558.75 L187.39 558.74 L188.30 558.74 L189.20 558.74 L190.11 558.74 L191.03 558.73 L191.95 558.73 L192.88 558.73 L193.81 558.72 L194.74 558.72 L195.68 558.72 L196.62 558.72 L197.57 558.71 L198.52 558.71 L199.48 558.71 L200.44 558.70 L201.41 558.70 L202.38 558.70 L203.35 558.70 L204.33 558.69 L205.32 558.69 L206.31 558.69 L207.30 558.69" fill="none" stroke="#00b050" stroke-width="4.4" stroke-linecap="round" stroke-dasharray="0 8.92"/>
<path d="M207.30 558.69 L208.81 558.68 L210.32 558.68 L211.82 558.67 L213.33 558.67 L214.84 558.67 L216.35 558.66 L217.85 558.66 L219.36 558.65 L220.87 558.65 L222.38 558.65 L223.88 558.64 L225.39 558.64 L226.90 558.64 L228.41 558.63 L229.91 558.63 L231.42 558.63 L232.93 558.62 L234.44 558.62 L235.95 558.62 L237.45 558.61 L238.96 558.61 L240.47 558.61 L241.98 558.60 L243.48 558.60 L244.99 558.60 L246.50 558.59 L248.01 558.59 L249.51 558.59 L251.02 558.59 L252.53 558.58 L254.04 558.58 L255.54 558.58 L257.05 558.57 L258.56 558.57 L260.07 558.57 L261.58 558.57 L263.08 558.56 L264.59 558.56 L266.10 558.56 L267.61 558.55 L269.11 558.55 L270.62 558.55 L272.13 558.55 L273.64 558.54 L275.14 558.54 L276.65 558.54 L278.16 558.54 L279.67 558.53 L281.17 558.53 L282.68 558.53 L284.19 558.53 L285.70 558.52 L287.20 558.52 L288.71 558.52 L290.22 558.52 L291.73 558.51 L293.24 558.51 L294.74 558.51 L296.25 558.51 L297.76 558.50 L299.27 558.50 L300.77 558.50 L302.28 558.50 L303.79 558.50 L305.30 558.49 L306.80 558.49 L308.31 558.49 L309.82 558.49 L311.33 558.49 L312.83 558.48 L314.34 558.48 L315.85 558.48" fill="none" stroke="#00b050" stroke-width="4.4" stroke-linecap="round" stroke-dasharray="0 8.92"/>
<path d="M315.85 558.48 L317.36 558.48 L318.87 558.47 L320.37 558.47 L321.88 558.47 L323.39 558.47 L324.90 558.47 L326.40 558.46 L327.91 558.46 L329.42 558.46 L330.93 558.46 L332.43 558.46 L333.94 558.45 L335.45 558.45 L336.96 558.45 L338.46 558.45 L339.97 558.45 L341.48 558.44 L342.99 558.44 L344.50 558.44 L346.00 558.44 L347.51 558.44 L349.02 558.44 L350.53 558.43 L352.03 558.43 L353.54 558.43 L355.05 558.43 L356.56 558.43 L358.06 558.42 L359.57 558.42 L361.08 558.42 L362.59 558.42 L364.09 558.42 L365.60 558.42 L367.11 558.41 L368.62 558.41 L370.12 558.41 L371.63 558.41 L373.14 558.41 L374.65 558.41 L376.16 558.40 L377.66 558.40 L379.17 558.40 L380.68 558.40 L382.19 558.40 L383.69 558.40 L385.20 558.39 L386.71 558.39 L388.22 558.39 L389.72 558.39 L391.23 558.39 L392.74 558.39 L394.25 558.38 L395.75 558.38 L397.26 558.38 L398.77 558.38 L400.28 558.38 L401.79 558.38 L403.29 558.38 L404.80 558.37 L406.31 558.37 L407.82 558.37 L409.32 558.37 L410.83 558.37 L412.34 558.37 L413.85 558.36 L415.35 558.36 L416.86 558.36 L418.37 558.36 L419.88 558.36 L421.38 558.36 L422.89 558.36 L424.40 558.35" fill="none" stroke="#00b050" stroke-width="4.4" stroke-linecap="round" stroke-dasharray="0 8.92"/>
<path d="M424.40 558.35 L425.91 558.35 L427.42 558.35 L428.92 558.35 L430.43 558.35 L431.94 558.35 L433.45 558.35 L434.95 558.34 L436.46 558.34 L437.97 558.34 L439.48 558.34 L440.98 558.34 L442.49 558.34 L444.00 558.34 L445.51 558.34 L447.01 558.33 L448.52 558.33 L450.03 558.33 L451.54 558.33 L453.05 558.33 L454.55 558.33 L456.06 558.33 L457.57 558.32 L459.08 558.32 L460.58 558.32 L462.09 558.32 L463.60 558.32 L465.11 558.32 L466.61 558.32 L468.12 558.32 L469.63 558.31 L471.14 558.31 L472.64 558.31 L474.15 558.31 L475.66 558.31 L477.17 558.31 L478.68 558.31 L480.18 558.31 L481.69 558.30 L483.20 558.30 L484.71 558.30 L486.21 558.30 L487.72 558.30 L489.23 558.30 L490.74 558.30 L492.24 558.30 L493.75 558.29 L495.26 558.29 L496.77 558.29 L498.27 558.29 L499.78 558.29 L501.29 558.29 L502.80 558.29 L504.30 558.29 L505.81 558.29 L507.32 558.28 L508.83 558.28 L510.34 558.28 L511.84 558.28 L513.35 558.28 L514.86 558.28 L516.37 558.28 L517.87 558.28 L519.38 558.28 L520.89 558.27 L522.40 558.27 L523.90 558.27 L525.41 558.27 L526.92 558.27 L528.43 558.27 L529.93 558.27 L531.44 558.27 L532.95 558.27" fill="none" stroke="#00b050" stroke-width="4.4" stroke-linecap="round" stroke-dasharray="0 8.92"/>
<path d="M532.95 558.27 L534.46 558.26 L535.97 558.26 L537.47 558.26 L538.98 558.26 L540.49 558.26 L542.00 558.26 L543.50 558.26 L545.01 558.26 L546.52 558.26 L548.03 558.25 L549.53 558.25 L551.04 558.25 L552.55 558.25 L554.06 558.25 L555.56 558.25 L557.07 558.25 L558.58 558.25 L560.09 558.25 L561.60 558.25 L563.10 558.24 L564.61 558.24 L566.12 558.24 L567.63 558.24 L569.13 558.24 L570.64 558.24 L572.15 558.24 L573.66 558.24 L575.16 558.24 L576.67 558.24 L578.18 558.23 L579.69 558.23 L581.19 558.23 L582.70 558.23 L584.21 558.23 L585.72 558.23 L587.23 558.23 L588.73 558.23 L590.24 558.23 L591.75 558.23 L593.26 558.22 L594.76 558.22 L596.27 558.22 L597.78 558.22 L599.29 558.22 L600.79 558.22 L602.30 558.22 L603.81 558.22 L605.32 558.22 L606.82 558.22 L608.33 558.22 L609.84 558.21 L611.35 558.21 L612.85 558.21 L614.36 558.21 L615.87 558.21 L617.38 558.21 L618.89 558.21 L620.39 558.21 L621.90 558.21 L623.41 558.21 L624.92 558.21 L626.42 558.20 L627.93 558.20 L629.44 558.20 L630.95 558.20 L632.45 558.20 L633.96 558.20 L635.47 558.20 L636.98 558.20 L638.48 558.20 L639.99 558.20 L641.50 558.20" fill="none" stroke="#00b050" stroke-width="4.4" stroke-linecap="round" stroke-dasharray="0 8.92"/>
<path d="M641.50 558.20 L643.02 558.19 L644.53 558.19 L646.05 558.19 L647.57 558.19 L649.09 558.19 L650.60 558.19 L652.12 558.19 L653.64 558.19 L655.16 558.19 L656.67 558.19 L658.19 558.19 L659.71 558.18 L661.23 558.18 L662.74 558.18 L664.26 558.18 L665.78 558.18 L667.30 558.18 L668.81 558.18 L670.33 558.18" fill="none" stroke="#00b050" stroke-width="4.4" stroke-linecap="round" stroke-dasharray="0 8.92"/>
<line x1="993.86" y1="12.90" x2="993.86" y2="564.00" stroke="#d9d9d9" stroke-width="2.2"/>
<line x1="1105.62" y1="12.90" x2="1105.62" y2="564.00" stroke="#d9d9d9" stroke-width="2.2"/>
<line x1="1217.38" y1="12.90" x2="1217.38" y2="564.00" stroke="#d9d9d9" stroke-width="2.2"/>
<line x1="1329.14" y1="12.90" x2="1329.14" y2="564.00" stroke="#d9d9d9" stroke-width="2.2"/>
<line x1="1440.90" y1="12.90" x2="1440.90" y2="564.00" stroke="#d9d9d9" stroke-width="2.2"/>
<line x1="882.10" y1="472.33" x2="1442.00" y2="472.33" stroke="#d9d9d9" stroke-width="2.2"/>
<line x1="882.10" y1="380.67" x2="1442.00" y2="380.67" stroke="#d9d9d9" stroke-width="2.2"/>
<line x1="882.10" y1="289.00" x2="1442.00" y2="289.00" stroke="#d9d9d9" stroke-width="2.2"/>
<line x1="882.10" y1="197.33" x2="1442.00" y2="197.33" stroke="#d9d9d9" stroke-width="2.2"/>
<line x1="882.10" y1="105.67" x2="1442.00" y2="105.67" stroke="#d9d9d9" stroke-width="2.2"/>
<line x1="882.10" y1="14.00" x2="1442.00" y2="14.00" stroke="#d9d9d9" stroke-width="2.2"/>
<line x1="882.10" y1="12.90" x2="882.10" y2="565.10" stroke="#bfbfbf" stroke-width="2.2"/>
<line x1="881.00" y1="564.00" x2="1442.00" y2="564.00" stroke="#bfbfbf" stroke-width="2.2"/>
<circle cx="882.90" cy="501.80" r="8.4" fill="#1f4e79"/>
<circle cx="885.20" cy="541.20" r="8.4" fill="#1f4e79"/>
<circle cx="890.00" cy="548.30" r="8.4" fill="#1f4e79"/>
<circle cx="900.75" cy="539.10" r="8.4" fill="#1f4e79"/>
<circle cx="916.80" cy="532.80" r="8.4" fill="#1f4e79"/>
<circle cx="959.00" cy="524.70" r="8.4" fill="#1f4e79"/>
<circle cx="1017.20" cy="507.10" r="8.4" fill="#1f4e79"/>
<circle cx="1437.75" cy="68.60" r="8.4" fill="#1f4e79"/>
<path d="M883.55 546.84 L883.55 546.83 L883.56 546.81 L883.57 546.76 L883.59 546.70 L883.61 546.61 L883.63 546.52 L883.66 546.40 L883.70 546.27 L883.73 546.12 L883.78 545.96 L883.83 545.78 L883.88 545.59 L883.93 545.39 L884.00 545.18 L884.06 544.96 L884.13 544.72 L884.21 544.48 L884.29 544.23 L884.37 543.97 L884.46 543.70 L884.55 543.43 L884.65 543.15 L884.75 542.87 L884.86 542.58 L884.97 542.28 L885.09 541.98 L885.21 541.68 L885.33 541.37 L885.46 541.06 L885.60 540.75 L885.74 540.44 L885.88 540.12 L886.03 539.80 L886.18 539.48 L886.34 539.16 L886.50 538.84 L886.67 538.52 L886.84 538.19 L887.01 537.87 L887.19 537.54 L887.38 537.21 L887.56 536.89 L887.76 536.56 L887.96 536.23 L888.16 535.90 L888.37 535.58 L888.58 535.25 L888.79 534.92 L889.01 534.59 L889.24 534.27 L889.47 533.94 L889.70 533.61 L889.94 533.29 L890.19 532.96 L890.43 532.64 L890.69 532.31 L890.94 531.99 L891.21 531.66 L891.47 531.34 L891.74 531.02 L892.02 530.70 L892.30 530.37 L892.58 530.05 L892.87 529.73 L893.16 529.41 L893.46 529.10 L893.77 528.78 L894.07 528.46 L894.38 528.14 L894.70 527.83 L895.02 527.51 L895.35 527.20 L895.68 526.88 L896.01 526.57 L896.35 526.26 L896.69 525.95 L897.04 525.64 L897.40 525.33 L897.75 525.02 L898.11 524.71 L898.48 524.40 L898.85 524.09 L899.23 523.79 L899.61 523.48 L899.99 523.18 L900.38 522.87 L900.77 522.57 L901.17 522.27 L901.58 521.96 L901.98 521.66 L902.40 521.36 L902.81 521.06 L903.23 520.76 L903.66 520.47 L904.09 520.17 L904.52 519.87 L904.96 519.57 L905.41 519.28 L905.85 518.98 L906.31 518.69 L906.76 518.40 L907.23 518.10 L907.69 517.81 L908.16 517.52 L908.64 517.23 L909.12 516.94 L909.60 516.65 L910.09 516.36 L910.59 516.07 L911.09 515.78 L911.59 515.50 L912.10 515.21 L912.61 514.92 L913.12 514.64 L913.65 514.35 L914.17 514.07 L914.70 513.79 L915.24 513.51 L915.78 513.22 L916.32 512.94 L916.87 512.66 L917.42 512.38 L917.98 512.10 L918.54 511.82 L919.11 511.54 L919.68 511.27 L920.25 510.99 L920.83 510.71 L921.42 510.43 L922.01 510.16 L922.60 509.88 L923.20 509.61 L923.80 509.34 L924.41 509.06 L925.02 508.79 L925.64 508.52 L926.26 508.24 L926.89 507.97 L927.52 507.70 L928.15 507.43 L928.79 507.16 L929.44 506.89 L930.09 506.62 L930.74 506.36 L931.40 506.09 L932.06 505.82 L932.73 505.55 L933.40 505.29 L934.07 505.02 L934.75 504.76 L935.44 504.49 L936.13 504.23 L936.82 503.96 L937.52 503.70 L938.22 503.44 L938.93 503.18 L939.64 502.91 L940.36 502.65 L941.08 502.39 L941.81 502.13 L942.54 501.87 L943.27 501.61 L944.01 501.35 L944.76 501.09 L945.51 500.84 L946.26 500.58 L947.02 500.32 L947.78 500.06 L948.55 499.81 L949.32 499.55 L950.09 499.29 L950.87 499.04 L951.66 498.78 L952.45 498.53 L953.24 498.28 L954.04 498.02 L954.85 497.77 L955.65 497.52 L956.47 497.26 L957.28 497.01 L958.10 496.76 L958.93 496.51 L959.76 496.26 L960.60 496.01 L961.44 495.76 L962.28 495.51 L963.13 495.26 L963.98 495.01 L964.84 494.76 L965.70 494.51 L966.57 494.26 L967.44 494.02 L968.32 493.77 L969.20 493.52 L970.08 493.28 L970.97 493.03 L971.87 492.79 L972.77 492.54 L973.67 492.30 L974.58 492.05 L975.49 491.81 L976.41 491.56 L977.33 491.32 L978.26 491.08 L979.19 490.83 L980.12 490.59 L981.06 490.35 L982.01 490.11 L982.95 489.87 L983.91 489.63 L984.87 489.38 L985.83 489.14 L986.80 488.90 L987.77 488.66 L988.74 488.42 L989.72 488.19 L990.71 487.95 L991.70 487.71" fill="none" stroke="#4472c4" stroke-width="4.4" stroke-linecap="round" stroke-dasharray="12.4 18.3 0 18.3"/>
<path d="M991.70 487.71 L993.20 487.35 L994.70 486.99 L996.21 486.64 L997.71 486.29 L999.21 485.94 L1000.71 485.60 L1002.21 485.26 L1003.72 484.92 L1005.22 484.59 L1006.72 484.25 L1008.22 483.92 L1009.72 483.59 L1011.23 483.27 L1012.73 482.95 L1014.23 482.63 L1015.73 482.31 L1017.24 481.99 L1018.74 481.68 L1020.24 481.37 L1021.74 481.06 L1023.24 480.75 L1024.75 480.45 L1026.25 480.14 L1027.75 479.84 L1029.25 479.55 L1030.75 479.25 L1032.26 478.96 L1033.76 478.66 L1035.26 478.37 L1036.76 478.08 L1038.26 477.80 L1039.77 477.51 L1041.27 477.23 L1042.77 476.95 L1044.27 476.67 L1045.77 476.39 L1047.28 476.11 L1048.78 475.84 L1050.28 475.56 L1051.78 475.29 L1053.29 475.02 L1054.79 474.75 L1056.29 474.49 L1057.79 474.22 L1059.29 473.96 L1060.80 473.69 L1062.30 473.43 L1063.80 473.17 L1065.30 472.91 L1066.80 472.66 L1068.31 472.40 L1069.81 472.15 L1071.31 471.89 L1072.81 471.64 L1074.31 471.39 L1075.82 471.14 L1077.32 470.90 L1078.82 470.65 L1080.32 470.40 L1081.82 470.16 L1083.33 469.92 L1084.83 469.68 L1086.33 469.43 L1087.83 469.20 L1089.34 468.96 L1090.84 468.72 L1092.34 468.48 L1093.84 468.25 L1095.34 468.02 L1096.85 467.78 L1098.35 467.55 L1099.85 467.32" fill="none" stroke="#4472c4" stroke-width="4.4" stroke-linecap="round" stroke-dasharray="12.4 18.3 0 18.3"/>
<path d="M1099.85 467.32 L1101.35 467.09 L1102.85 466.86 L1104.36 466.63 L1105.86 466.41 L1107.36 466.18 L1108.86 465.96 L1110.36 465.73 L1111.87 465.51 L1113.37 465.29 L1114.87 465.07 L1116.37 464.85 L1117.88 464.63 L1119.38 464.41 L1120.88 464.20 L1122.38 463.98 L1123.88 463.76 L1125.39 463.55 L1126.89 463.34 L1128.39 463.12 L1129.89 462.91 L1131.39 462.70 L1132.90 462.49 L1134.40 462.28 L1135.90 462.07 L1137.40 461.87 L1138.90 461.66 L1140.41 461.45 L1141.91 461.25 L1143.41 461.04 L1144.91 460.84 L1146.41 460.64 L1147.92 460.43 L1149.42 460.23 L1150.92 460.03 L1152.42 459.83 L1153.92 459.63 L1155.43 459.43 L1156.93 459.23 L1158.43 459.04 L1159.93 458.84 L1161.44 458.65 L1162.94 458.45 L1164.44 458.26 L1165.94 458.06 L1167.44 457.87 L1168.95 457.68 L1170.45 457.48 L1171.95 457.29 L1173.45 457.10 L1174.95 456.91 L1176.46 456.72 L1177.96 456.54 L1179.46 456.35 L1180.96 456.16 L1182.46 455.97 L1183.97 455.79 L1185.47 455.60 L1186.97 455.42 L1188.47 455.23 L1189.97 455.05 L1191.48 454.87 L1192.98 454.68 L1194.48 454.50 L1195.98 454.32 L1197.49 454.14 L1198.99 453.96 L1200.49 453.78 L1201.99 453.60 L1203.49 453.42 L1205.00 453.24 L1206.50 453.07 L1208.00 452.89" fill="none" stroke="#4472c4" stroke-width="4.4" stroke-linecap="round" stroke-dasharray="12.4 18.3 0 18.3"/>
<path d="M1208.00 452.89 L1209.50 452.71 L1211.00 452.54 L1212.51 452.36 L1214.01 452.19 L1215.51 452.01 L1217.01 451.84 L1218.51 451.67 L1220.02 451.49 L1221.52 451.32 L1223.02 451.15 L1224.52 450.98 L1226.03 450.81 L1227.53 450.64 L1229.03 450.47 L1230.53 450.30 L1232.03 450.13 L1233.54 449.96 L1235.04 449.79 L1236.54 449.62 L1238.04 449.46 L1239.54 449.29 L1241.05 449.12 L1242.55 448.96 L1244.05 448.79 L1245.55 448.63 L1247.05 448.47 L1248.56 448.30 L1250.06 448.14 L1251.56 447.97 L1253.06 447.81 L1254.56 447.65 L1256.07 447.49 L1257.57 447.33 L1259.07 447.17 L1260.57 447.01 L1262.08 446.85 L1263.58 446.69 L1265.08 446.53 L1266.58 446.37 L1268.08 446.21 L1269.59 446.05 L1271.09 445.89 L1272.59 445.74 L1274.09 445.58 L1275.59 445.42 L1277.10 445.27 L1278.60 445.11 L1280.10 444.96 L1281.60 444.80 L1283.10 444.65 L1284.61 444.49 L1286.11 444.34 L1287.61 444.19 L1289.11 444.03 L1290.61 443.88 L1292.12 443.73 L1293.62 443.58 L1295.12 443.43 L1296.62 443.28 L1298.12 443.12 L1299.63 442.97 L1301.13 442.82 L1302.63 442.67 L1304.13 442.53 L1305.64 442.38 L1307.14 442.23 L1308.64 442.08 L1310.14 441.93 L1311.64 441.78 L1313.15 441.64 L1314.65 441.49 L1316.15 441.34" fill="none" stroke="#4472c4" stroke-width="4.4" stroke-linecap="round" stroke-dasharray="12.4 18.3 0 18.3"/>
<path d="M1316.15 441.34 L1317.65 441.20 L1319.15 441.05 L1320.66 440.91 L1322.16 440.76 L1323.66 440.62 L1325.16 440.47 L1326.66 440.33 L1328.17 440.18 L1329.67 440.04 L1331.17 439.89 L1332.67 439.75 L1334.18 439.61 L1335.68 439.47 L1337.18 439.32 L1338.68 439.18 L1340.18 439.04 L1341.69 438.90 L1343.19 438.76 L1344.69 438.62 L1346.19 438.48 L1347.69 438.34 L1349.20 438.20 L1350.70 438.06 L1352.20 437.92 L1353.70 437.78 L1355.20 437.64 L1356.71 437.50 L1358.21 437.37 L1359.71 437.23 L1361.21 437.09 L1362.71 436.95 L1364.22 436.82 L1365.72 436.68 L1367.22 436.54 L1368.72 436.41 L1370.23 436.27 L1371.73 436.14 L1373.23 436.00 L1374.73 435.87 L1376.23 435.73 L1377.74 435.60 L1379.24 435.46 L1380.74 435.33 L1382.24 435.20 L1383.74 435.06 L1385.25 434.93 L1386.75 434.80 L1388.25 434.66 L1389.75 434.53 L1391.25 434.40 L1392.76 434.27 L1394.26 434.14 L1395.76 434.01 L1397.26 433.87 L1398.76 433.74 L1400.27 433.61 L1401.77 433.48 L1403.27 433.35 L1404.77 433.22 L1406.28 433.09 L1407.78 432.96 L1409.28 432.84 L1410.78 432.71 L1412.28 432.58 L1413.79 432.45 L1415.29 432.32 L1416.79 432.19 L1418.29 432.07 L1419.79 431.94 L1421.30 431.81 L1422.80 431.68 L1424.30 431.56" fill="none" stroke="#4472c4" stroke-width="4.4" stroke-linecap="round" stroke-dasharray="12.4 18.3 0 18.3"/>
<path d="M1424.30 431.56 L1425.80 431.43 L1427.31 431.31 L1428.81 431.18 L1430.31 431.05 L1431.81 430.93 L1433.32 430.80 L1434.82 430.68 L1436.32 430.55 L1437.83 430.43" fill="none" stroke="#4472c4" stroke-width="4.4" stroke-linecap="round" stroke-dasharray="12.4 18.3 0 18.3"/>
<path d="M883.10 529.87 L883.10 529.87 L883.11 529.87 L883.12 529.88 L883.14 529.88 L883.16 529.89 L883.18 529.90 L883.21 529.90 L883.25 529.92 L883.28 529.93 L883.33 529.94 L883.38 529.95 L883.43 529.97 L883.48 529.99 L883.55 530.01 L883.61 530.03 L883.68 530.05 L883.76 530.07 L883.84 530.09 L883.92 530.12 L884.01 530.14 L884.10 530.17 L884.20 530.20 L884.30 530.23 L884.41 530.26 L884.52 530.29 L884.64 530.33 L884.76 530.36 L884.88 530.40 L885.01 530.44 L885.15 530.48 L885.29 530.52 L885.43 530.56 L885.58 530.60 L885.73 530.64 L885.89 530.69 L886.05 530.73 L886.22 530.78 L886.39 530.82 L886.56 530.87 L886.74 530.92 L886.93 530.97 L887.11 531.02 L887.31 531.08 L887.51 531.13 L887.71 531.18 L887.92 531.24 L888.13 531.29 L888.34 531.35 L888.56 531.41 L888.79 531.47 L889.02 531.52 L889.25 531.58 L889.49 531.64 L889.74 531.70 L889.98 531.77 L890.24 531.83 L890.49 531.89 L890.76 531.95 L891.02 532.02 L891.29 532.08 L891.57 532.15 L891.85 532.21 L892.13 532.28 L892.42 532.34 L892.71 532.41 L893.01 532.48 L893.32 532.54 L893.62 532.61 L893.93 532.68 L894.25 532.75 L894.57 532.81 L894.90 532.88 L895.23 532.95 L895.56 533.02 L895.90 533.09 L896.24 533.15 L896.59 533.22 L896.95 533.29 L897.30 533.36 L897.66 533.42 L898.03 533.49 L898.40 533.56 L898.78 533.63 L899.16 533.69 L899.54 533.76 L899.93 533.82 L900.32 533.89 L900.72 533.95 L901.13 534.02 L901.53 534.08 L901.95 534.14 L902.36 534.21 L902.78 534.27 L903.21 534.33 L903.64 534.39 L904.07 534.45 L904.51 534.50 L904.96 534.56 L905.40 534.62 L905.86 534.67 L906.31 534.73 L906.78 534.78 L907.24 534.83 L907.71 534.88 L908.19 534.93 L908.67 534.98 L909.15 535.03 L909.64 535.07 L910.14 535.12 L910.64 535.16 L911.14 535.20 L911.65 535.24 L912.16 535.28 L912.67 535.31 L913.20 535.35 L913.72 535.38 L914.25 535.41 L914.79 535.44 L915.33 535.46 L915.87 535.49 L916.42 535.51 L916.97 535.53 L917.53 535.55 L918.09 535.57 L918.66 535.58 L919.23 535.59 L919.80 535.60 L920.38 535.61 L920.97 535.61 L921.56 535.61 L922.15 535.61 L922.75 535.61 L923.35 535.60 L923.96 535.59 L924.57 535.58 L925.19 535.56 L925.81 535.54 L926.44 535.52 L927.07 535.50 L927.70 535.47 L928.34 535.44 L928.99 535.41 L929.64 535.37 L930.29 535.33 L930.95 535.29 L931.61 535.24 L932.28 535.19 L932.95 535.13 L933.62 535.08 L934.30 535.01 L934.99 534.95 L935.68 534.88 L936.37 534.81 L937.07 534.73 L937.77 534.65 L938.48 534.56 L939.19 534.47 L939.91 534.38 L940.63 534.28 L941.36 534.18 L942.09 534.07 L942.82 533.96 L943.56 533.84 L944.31 533.72 L945.06 533.60 L945.81 533.47 L946.57 533.34 L947.33 533.20 L948.10 533.05 L948.87 532.90 L949.64 532.75 L950.42 532.59 L951.21 532.43 L952.00 532.26 L952.79 532.08 L953.59 531.90 L954.40 531.72 L955.20 531.53 L956.02 531.33 L956.83 531.13 L957.65 530.92 L958.48 530.71 L959.31 530.49 L960.15 530.27 L960.99 530.03 L961.83 529.80 L962.68 529.56 L963.53 529.31 L964.39 529.05 L965.25 528.79 L966.12 528.52 L966.99 528.25 L967.87 527.97 L968.75 527.69 L969.63 527.39 L970.52 527.09 L971.42 526.79 L972.32 526.48 L973.22 526.16 L974.13 525.83 L975.04 525.50 L975.96 525.16 L976.88 524.81 L977.81 524.46 L978.74 524.09 L979.67 523.73 L980.61 523.35 L981.56 522.97 L982.50 522.58 L983.46 522.18 L984.42 521.78 L985.38 521.36 L986.35 520.94 L987.32 520.51 L988.29 520.08 L989.27 519.64 L990.26 519.18 L991.25 518.73" fill="none" stroke="#ff0000" stroke-width="5.0" stroke-linecap="round" stroke-dasharray="31 18 0 18 0 18"/>
<path d="M991.25 518.73 L992.75 518.02 L994.25 517.30 L995.76 516.56 L997.26 515.82 L998.76 515.06 L1000.26 514.28 L1001.76 513.50 L1003.27 512.70 L1004.77 511.89 L1006.27 511.06 L1007.77 510.23 L1009.27 509.38 L1010.78 508.52 L1012.28 507.64 L1013.78 506.76 L1015.28 505.86 L1016.79 504.95 L1018.29 504.02 L1019.79 503.09 L1021.29 502.14 L1022.79 501.19 L1024.30 500.22 L1025.80 499.23 L1027.30 498.24 L1028.80 497.24 L1030.30 496.22 L1031.81 495.19 L1033.31 494.16 L1034.81 493.11 L1036.31 492.05 L1037.81 490.97 L1039.32 489.89 L1040.82 488.80 L1042.32 487.69 L1043.82 486.58 L1045.33 485.45 L1046.83 484.32 L1048.33 483.17 L1049.83 482.01 L1051.33 480.85 L1052.84 479.67 L1054.34 478.48 L1055.84 477.28 L1057.34 476.08 L1058.84 474.86 L1060.35 473.63 L1061.85 472.39 L1063.35 471.15 L1064.85 469.89 L1066.35 468.63 L1067.86 467.35 L1069.36 466.07 L1070.86 464.77 L1072.36 463.47 L1073.86 462.16 L1075.37 460.84 L1076.87 459.51 L1078.37 458.17 L1079.87 456.82 L1081.38 455.46 L1082.88 454.10 L1084.38 452.72 L1085.88 451.34 L1087.38 449.95 L1088.89 448.55 L1090.39 447.15 L1091.89 445.73 L1093.39 444.31 L1094.89 442.88 L1096.40 441.44 L1097.90 439.99 L1099.40 438.54" fill="none" stroke="#ff0000" stroke-width="5.0" stroke-linecap="round" stroke-dasharray="31 18 0 18 0 18"/>
<path d="M1099.40 438.54 L1100.90 437.07 L1102.40 435.60 L1103.91 434.13 L1105.41 432.64 L1106.91 431.15 L1108.41 429.65 L1109.91 428.14 L1111.42 426.63 L1112.92 425.11 L1114.42 423.58 L1115.92 422.04 L1117.43 420.50 L1118.93 418.96 L1120.43 417.40 L1121.93 415.84 L1123.43 414.27 L1124.94 412.70 L1126.44 411.12 L1127.94 409.53 L1129.44 407.94 L1130.94 406.34 L1132.45 404.73 L1133.95 403.12 L1135.45 401.50 L1136.95 399.88 L1138.45 398.25 L1139.96 396.62 L1141.46 394.98 L1142.96 393.34 L1144.46 391.69 L1145.96 390.03 L1147.47 388.37 L1148.97 386.70 L1150.47 385.03 L1151.97 383.36 L1153.48 381.68 L1154.98 379.99 L1156.48 378.30 L1157.98 376.61 L1159.48 374.91 L1160.99 373.21 L1162.49 371.50 L1163.99 369.79 L1165.49 368.07 L1166.99 366.35 L1168.50 364.63 L1170.00 362.90 L1171.50 361.16 L1173.00 359.43 L1174.50 357.69 L1176.01 355.94 L1177.51 354.20 L1179.01 352.45 L1180.51 350.69 L1182.01 348.94 L1183.52 347.17 L1185.02 345.41 L1186.52 343.64 L1188.02 341.87 L1189.53 340.10 L1191.03 338.33 L1192.53 336.55 L1194.03 334.77 L1195.53 332.98 L1197.04 331.20 L1198.54 329.41 L1200.04 327.62 L1201.54 325.82 L1203.04 324.03 L1204.55 322.23 L1206.05 320.43 L1207.55 318.63" fill="none" stroke="#ff0000" stroke-width="5.0" stroke-linecap="round" stroke-dasharray="31 18 0 18 0 18"/>
<path d="M1207.55 318.63 L1209.05 316.83 L1210.55 315.02 L1212.06 313.22 L1213.56 311.41 L1215.06 309.60 L1216.56 307.79 L1218.06 305.97 L1219.57 304.16 L1221.07 302.34 L1222.57 300.53 L1224.07 298.71 L1225.58 296.89 L1227.08 295.07 L1228.58 293.25 L1230.08 291.43 L1231.58 289.61 L1233.09 287.79 L1234.59 285.97 L1236.09 284.14 L1237.59 282.32 L1239.09 280.50 L1240.60 278.67 L1242.10 276.85 L1243.60 275.03 L1245.10 273.20 L1246.60 271.38 L1248.11 269.56 L1249.61 267.73 L1251.11 265.91 L1252.61 264.09 L1254.11 262.27 L1255.62 260.45 L1257.12 258.63 L1258.62 256.81 L1260.12 254.99 L1261.63 253.17 L1263.13 251.36 L1264.63 249.54 L1266.13 247.73 L1267.63 245.92 L1269.14 244.10 L1270.64 242.30 L1272.14 240.49 L1273.64 238.68 L1275.14 236.88 L1276.65 235.07 L1278.15 233.27 L1279.65 231.47 L1281.15 229.68 L1282.65 227.88 L1284.16 226.09 L1285.66 224.30 L1287.16 222.51 L1288.66 220.72 L1290.16 218.94 L1291.67 217.16 L1293.17 215.38 L1294.67 213.61 L1296.17 211.84 L1297.68 210.07 L1299.18 208.30 L1300.68 206.54 L1302.18 204.78 L1303.68 203.02 L1305.19 201.27 L1306.69 199.52 L1308.19 197.77 L1309.69 196.03 L1311.19 194.29 L1312.70 192.55 L1314.20 190.82 L1315.70 189.09" fill="none" stroke="#ff0000" stroke-width="5.0" stroke-linecap="round" stroke-dasharray="31 18 0 18 0 18"/>
<path d="M1315.70 189.09 L1317.20 187.37 L1318.70 185.65 L1320.21 183.93 L1321.71 182.22 L1323.21 180.52 L1324.71 178.81 L1326.21 177.12 L1327.72 175.42 L1329.22 173.73 L1330.72 172.05 L1332.22 170.37 L1333.73 168.69 L1335.23 167.02 L1336.73 165.36 L1338.23 163.70 L1339.73 162.05 L1341.24 160.40 L1342.74 158.75 L1344.24 157.12 L1345.74 155.48 L1347.24 153.86 L1348.75 152.23 L1350.25 150.62 L1351.75 149.01 L1353.25 147.40 L1354.75 145.81 L1356.26 144.21 L1357.76 142.63 L1359.26 141.05 L1360.76 139.48 L1362.26 137.91 L1363.77 136.35 L1365.27 134.79 L1366.77 133.25 L1368.27 131.71 L1369.78 130.17 L1371.28 128.65 L1372.78 127.13 L1374.28 125.61 L1375.78 124.11 L1377.29 122.61 L1378.79 121.12 L1380.29 119.64 L1381.79 118.16 L1383.29 116.69 L1384.80 115.23 L1386.30 113.78 L1387.80 112.33 L1389.30 110.89 L1390.80 109.46 L1392.31 108.04 L1393.81 106.63 L1395.31 105.22 L1396.81 103.82 L1398.31 102.43 L1399.82 101.05 L1401.32 99.68 L1402.82 98.32 L1404.32 96.96 L1405.83 95.62 L1407.33 94.28 L1408.83 92.95 L1410.33 91.63 L1411.83 90.32 L1413.34 89.02 L1414.84 87.72 L1416.34 86.44 L1417.84 85.17 L1419.34 83.90 L1420.85 82.65 L1422.35 81.40 L1423.85 80.17" fill="none" stroke="#ff0000" stroke-width="5.0" stroke-linecap="round" stroke-dasharray="31 18 0 18 0 18"/>
<path d="M1423.85 80.17 L1425.40 78.90 L1426.96 77.64 L1428.51 76.40 L1430.06 75.16 L1431.61 73.94 L1433.17 72.72 L1434.72 71.52 L1436.27 70.33 L1437.83 69.15" fill="none" stroke="#ff0000" stroke-width="5.0" stroke-linecap="round" stroke-dasharray="31 18 0 18 0 18"/>
<path d="M883.10 512.76 L883.10 512.76 L883.11 512.75 L883.12 512.72 L883.14 512.69 L883.16 512.65 L883.18 512.60 L883.21 512.55 L883.25 512.49 L883.28 512.42 L883.33 512.34 L883.38 512.26 L883.43 512.18 L883.48 512.09 L883.55 512.00 L883.61 511.91 L883.68 511.82 L883.76 511.72 L883.84 511.62 L883.92 511.52 L884.01 511.42 L884.10 511.32 L884.20 511.22 L884.30 511.12 L884.41 511.02 L884.52 510.92 L884.64 510.82 L884.76 510.72 L884.88 510.62 L885.01 510.53 L885.15 510.43 L885.29 510.33 L885.43 510.24 L885.58 510.15 L885.73 510.05 L885.89 509.96 L886.05 509.87 L886.22 509.78 L886.39 509.69 L886.56 509.61 L886.74 509.52 L886.93 509.44 L887.11 509.35 L887.31 509.27 L887.51 509.19 L887.71 509.11 L887.92 509.03 L888.13 508.95 L888.34 508.87 L888.56 508.79 L888.79 508.72 L889.02 508.64 L889.25 508.57 L889.49 508.50 L889.74 508.42 L889.98 508.35 L890.24 508.28 L890.49 508.21 L890.76 508.15 L891.02 508.08 L891.29 508.01 L891.57 507.94 L891.85 507.88 L892.13 507.81 L892.42 507.75 L892.71 507.69 L893.01 507.63 L893.32 507.56 L893.62 507.50 L893.93 507.44 L894.25 507.38 L894.57 507.32 L894.90 507.26 L895.23 507.21 L895.56 507.15 L895.90 507.09 L896.24 507.04 L896.59 506.98 L896.95 506.93 L897.30 506.87 L897.66 506.82 L898.03 506.77 L898.40 506.71 L898.78 506.66 L899.16 506.61 L899.54 506.56 L899.93 506.51 L900.32 506.46 L900.72 506.41 L901.13 506.36 L901.53 506.31 L901.95 506.26 L902.36 506.21 L902.78 506.16 L903.21 506.12 L903.64 506.07 L904.07 506.02 L904.51 505.98 L904.96 505.93 L905.40 505.89 L905.86 505.84 L906.31 505.80 L906.78 505.75 L907.24 505.71 L907.71 505.67 L908.19 505.62 L908.67 505.58 L909.15 505.54 L909.64 505.50 L910.14 505.46 L910.64 505.42 L911.14 505.37 L911.65 505.33 L912.16 505.29 L912.67 505.25 L913.20 505.21 L913.72 505.17 L914.25 505.14 L914.79 505.10 L915.33 505.06 L915.87 505.02 L916.42 504.98 L916.97 504.94 L917.53 504.91 L918.09 504.87 L918.66 504.83 L919.23 504.80 L919.80 504.76 L920.38 504.72 L920.97 504.69 L921.56 504.65 L922.15 504.62 L922.75 504.58 L923.35 504.55 L923.96 504.51 L924.57 504.48 L925.19 504.44 L925.81 504.41 L926.44 504.37 L927.07 504.34 L927.70 504.31 L928.34 504.27 L928.99 504.24 L929.64 504.21 L930.29 504.17 L930.95 504.14 L931.61 504.11 L932.28 504.08 L932.95 504.05 L933.62 504.01 L934.30 503.98 L934.99 503.95 L935.68 503.92 L936.37 503.89 L937.07 503.86 L937.77 503.83 L938.48 503.80 L939.19 503.77 L939.91 503.74 L940.63 503.71 L941.36 503.68 L942.09 503.65 L942.82 503.62 L943.56 503.59 L944.31 503.56 L945.06 503.53 L945.81 503.50 L946.57 503.47 L947.33 503.45 L948.10 503.42 L948.87 503.39 L949.64 503.36 L950.42 503.33 L951.21 503.31 L952.00 503.28 L952.79 503.25 L953.59 503.22 L954.40 503.20 L955.20 503.17 L956.02 503.14 L956.83 503.12 L957.65 503.09 L958.48 503.06 L959.31 503.04 L960.15 503.01 L960.99 502.98 L961.83 502.96 L962.68 502.93 L963.53 502.91 L964.39 502.88 L965.25 502.85 L966.12 502.83 L966.99 502.80 L967.87 502.78 L968.75 502.75 L969.63 502.73 L970.52 502.70 L971.42 502.68 L972.32 502.65 L973.22 502.63 L974.13 502.61 L975.04 502.58 L975.96 502.56 L976.88 502.53 L977.81 502.51 L978.74 502.49 L979.67 502.46 L980.61 502.44 L981.56 502.42 L982.50 502.39 L983.46 502.37 L984.42 502.35 L985.38 502.32 L986.35 502.30 L987.32 502.28 L988.29 502.25 L989.27 502.23 L990.26 502.21 L991.25 502.19" fill="none" stroke="#00b050" stroke-width="4.4" stroke-linecap="round" stroke-dasharray="0 8.92"/>
<path d="M991.25 502.19 L992.75 502.15 L994.25 502.12 L995.76 502.09 L997.26 502.05 L998.76 502.02 L1000.26 501.99 L1001.76 501.96 L1003.27 501.93 L1004.77 501.90 L1006.27 501.87 L1007.77 501.84 L1009.27 501.81 L1010.78 501.78 L1012.28 501.75 L1013.78 501.72 L1015.28 501.69 L1016.79 501.66 L1018.29 501.64 L1019.79 501.61 L1021.29 501.58 L1022.79 501.55 L1024.30 501.53 L1025.80 501.50 L1027.30 501.48 L1028.80 501.45 L1030.30 501.42 L1031.81 501.40 L1033.31 501.37 L1034.81 501.35 L1036.31 501.33 L1037.81 501.30 L1039.32 501.28 L1040.82 501.25 L1042.32 501.23 L1043.82 501.21 L1045.33 501.18 L1046.83 501.16 L1048.33 501.14 L1049.83 501.11 L1051.33 501.09 L1052.84 501.07 L1054.34 501.05 L1055.84 501.03 L1057.34 501.00 L1058.84 500.98 L1060.35 500.96 L1061.85 500.94 L1063.35 500.92 L1064.85 500.90 L1066.35 500.88 L1067.86 500.86 L1069.36 500.84 L1070.86 500.82 L1072.36 500.80 L1073.86 500.78 L1075.37 500.76 L1076.87 500.74 L1078.37 500.72 L1079.87 500.70 L1081.38 500.68 L1082.88 500.66 L1084.38 500.64 L1085.88 500.62 L1087.38 500.60 L1088.89 500.59 L1090.39 500.57 L1091.89 500.55 L1093.39 500.53 L1094.89 500.51 L1096.40 500.49 L1097.90 500.48 L1099.40 500.46" fill="none" stroke="#00b050" stroke-width="4.4" stroke-linecap="round" stroke-dasharray="0 8.92"/>
<path d="M1099.40 500.46 L1100.90 500.44 L1102.40 500.42 L1103.91 500.41 L1105.41 500.39 L1106.91 500.37 L1108.41 500.36 L1109.91 500.34 L1111.42 500.32 L1112.92 500.31 L1114.42 500.29 L1115.92 500.27 L1117.43 500.26 L1118.93 500.24 L1120.43 500.22 L1121.93 500.21 L1123.43 500.19 L1124.94 500.18 L1126.44 500.16 L1127.94 500.15 L1129.44 500.13 L1130.94 500.11 L1132.45 500.10 L1133.95 500.08 L1135.45 500.07 L1136.95 500.05 L1138.45 500.04 L1139.96 500.02 L1141.46 500.01 L1142.96 499.99 L1144.46 499.98 L1145.96 499.96 L1147.47 499.95 L1148.97 499.94 L1150.47 499.92 L1151.97 499.91 L1153.48 499.89 L1154.98 499.88 L1156.48 499.86 L1157.98 499.85 L1159.48 499.84 L1160.99 499.82 L1162.49 499.81 L1163.99 499.79 L1165.49 499.78 L1166.99 499.77 L1168.50 499.75 L1170.00 499.74 L1171.50 499.73 L1173.00 499.71 L1174.50 499.70 L1176.01 499.69 L1177.51 499.67 L1179.01 499.66 L1180.51 499.65 L1182.01 499.64 L1183.52 499.62 L1185.02 499.61 L1186.52 499.60 L1188.02 499.58 L1189.53 499.57 L1191.03 499.56 L1192.53 499.55 L1194.03 499.53 L1195.53 499.52 L1197.04 499.51 L1198.54 499.50 L1200.04 499.48 L1201.54 499.47 L1203.04 499.46 L1204.55 499.45 L1206.05 499.44 L1207.55 499.42" fill="none" stroke="#00b050" stroke-width="4.4" stroke-linecap="round" stroke-dasharray="0 8.92"/>
<path d="M1207.55 499.42 L1209.05 499.41 L1210.55 499.40 L1212.06 499.39 L1213.56 499.38 L1215.06 499.37 L1216.56 499.35 L1218.06 499.34 L1219.57 499.33 L1221.07 499.32 L1222.57 499.31 L1224.07 499.30 L1225.58 499.29 L1227.08 499.27 L1228.58 499.26 L1230.08 499.25 L1231.58 499.24 L1233.09 499.23 L1234.59 499.22 L1236.09 499.21 L1237.59 499.20 L1239.09 499.19 L1240.60 499.17 L1242.10 499.16 L1243.60 499.15 L1245.10 499.14 L1246.60 499.13 L1248.11 499.12 L1249.61 499.11 L1251.11 499.10 L1252.61 499.09 L1254.11 499.08 L1255.62 499.07 L1257.12 499.06 L1258.62 499.05 L1260.12 499.04 L1261.63 499.03 L1263.13 499.02 L1264.63 499.01 L1266.13 499.00 L1267.63 498.99 L1269.14 498.98 L1270.64 498.97 L1272.14 498.96 L1273.64 498.95 L1275.14 498.94 L1276.65 498.93 L1278.15 498.92 L1279.65 498.91 L1281.15 498.90 L1282.65 498.89 L1284.16 498.88 L1285.66 498.87 L1287.16 498.86 L1288.66 498.85 L1290.16 498.84 L1291.67 498.83 L1293.17 498.82 L1294.67 498.81 L1296.17 498.80 L1297.68 498.79 L1299.18 498.78 L1300.68 498.77 L1302.18 498.76 L1303.68 498.75 L1305.19 498.74 L1306.69 498.73 L1308.19 498.72 L1309.69 498.72 L1311.19 498.71 L1312.70 498.70 L1314.20 498.69 L1315.70 498.68" fill="none" stroke="#00b050" stroke-width="4.4" stroke-linecap="round" stroke-dasharray="0 8.92"/>
<path d="M1315.70 498.68 L1317.20 498.67 L1318.70 498.66 L1320.21 498.65 L1321.71 498.64 L1323.21 498.63 L1324.71 498.63 L1326.21 498.62 L1327.72 498.61 L1329.22 498.60 L1330.72 498.59 L1332.22 498.58 L1333.73 498.57 L1335.23 498.56 L1336.73 498.56 L1338.23 498.55 L1339.73 498.54 L1341.24 498.53 L1342.74 498.52 L1344.24 498.51 L1345.74 498.50 L1347.24 498.50 L1348.75 498.49 L1350.25 498.48 L1351.75 498.47 L1353.25 498.46 L1354.75 498.45 L1356.26 498.45 L1357.76 498.44 L1359.26 498.43 L1360.76 498.42 L1362.26 498.41 L1363.77 498.40 L1365.27 498.40 L1366.77 498.39 L1368.27 498.38 L1369.78 498.37 L1371.28 498.36 L1372.78 498.36 L1374.28 498.35 L1375.78 498.34 L1377.29 498.33 L1378.79 498.32 L1380.29 498.32 L1381.79 498.31 L1383.29 498.30 L1384.80 498.29 L1386.30 498.28 L1387.80 498.28 L1389.30 498.27 L1390.80 498.26 L1392.31 498.25 L1393.81 498.24 L1395.31 498.24 L1396.81 498.23 L1398.31 498.22 L1399.82 498.21 L1401.32 498.21 L1402.82 498.20 L1404.32 498.19 L1405.83 498.18 L1407.33 498.18 L1408.83 498.17 L1410.33 498.16 L1411.83 498.15 L1413.34 498.15 L1414.84 498.14 L1416.34 498.13 L1417.84 498.12 L1419.34 498.12 L1420.85 498.11 L1422.35 498.10 L1423.85 498.09" fill="none" stroke="#00b050" stroke-width="4.4" stroke-linecap="round" stroke-dasharray="0 8.92"/>
<path d="M1423.85 498.09 L1425.40 498.09 L1426.96 498.08 L1428.51 498.07 L1430.06 498.06 L1431.61 498.06 L1433.17 498.05 L1434.72 498.04 L1436.27 498.03 L1437.83 498.03" fill="none" stroke="#00b050" stroke-width="4.4" stroke-linecap="round" stroke-dasharray="0 8.92"/>
<rect x="102.5" y="18.5" width="349.5" height="136.5" fill="#fff"/>
<circle cx="159.70" cy="35.5" r="7.3" fill="#1f4e79"/>
<text x="205.2" y="43.10" style="letter-spacing:0px">USA fire statistics</text>
<path d="M122.70 61.6H135.70M153.60 61.6h0.01M171.50 61.6H184.50" stroke="#4472c4" stroke-width="4.3" stroke-linecap="round" fill="none"/>
<text x="205.2" y="69.40" style="letter-spacing:-0.12px">Power (USA-Improved)</text>
<path d="M123.10 88.1H153.20M171.20 88.1h0.01M189.40 88.1h0.01" stroke="#ff0000" stroke-width="4.8" stroke-linecap="round" fill="none"/>
<text x="205.2" y="95.70" style="letter-spacing:-0.06px">Poly. (USA-Improved)</text>
<path d="M122.90 114.7H196.90" stroke="#ed7d31" stroke-width="4.4" stroke-linecap="round" stroke-dasharray="7.8 10.15" fill="none"/>
<text x="205.2" y="122.30" style="letter-spacing:-0.04px">Power (PD)</text>
<path d="M122.40 141.5H194.70" stroke="#00b050" stroke-width="4.1" stroke-linecap="round" stroke-dasharray="0 8.9" fill="none"/>
<text x="205.2" y="148.60" style="letter-spacing:-0.12px">Power (USA-Rutstein)</text>
<rect x="891" y="18.5" width="341" height="106" fill="#fff"/>
<circle cx="944.60" cy="31.2" r="7.3" fill="#1f4e79"/>
<text x="990.1" y="39.00" style="letter-spacing:0px">USA fire statistics</text>
<path d="M907.60 58.0H920.60M938.50 58.0h0.01M956.40 58.0H969.40" stroke="#4472c4" stroke-width="4.3" stroke-linecap="round" fill="none"/>
<text x="990.1" y="65.80" style="letter-spacing:-0.12px">Power (USA-Improved)</text>
<path d="M908.00 84.8H938.10M956.10 84.8h0.01M974.30 84.8h0.01" stroke="#ff0000" stroke-width="4.8" stroke-linecap="round" fill="none"/>
<text x="990.1" y="92.60" style="letter-spacing:-0.06px">Poly. (USA-Improved)</text>
<path d="M907.30 111.6H979.60" stroke="#00b050" stroke-width="4.1" stroke-linecap="round" stroke-dasharray="0 8.9" fill="none"/>
<text x="990.1" y="119.30" style="letter-spacing:-0.12px">Power (USA-Rutstein)</text>
<text x="77.6" y="574.40" text-anchor="end">0%</text>
<text x="77.6" y="465.19" text-anchor="end">5%</text>
<text x="77.6" y="354.58" text-anchor="end">10%</text>
<text x="77.6" y="243.47" text-anchor="end">15%</text>
<text x="77.6" y="133.06" text-anchor="end">20%</text>
<text x="77.6" y="23.20" text-anchor="end">25%</text>
<text x="861.7" y="572.40" text-anchor="end">0.0%</text>
<text x="861.7" y="480.73" text-anchor="end">0.5%</text>
<text x="861.7" y="388.67" text-anchor="end">1.0%</text>
<text x="861.7" y="297.60" text-anchor="end">1.5%</text>
<text x="861.7" y="205.33" text-anchor="end">2.0%</text>
<text x="861.7" y="112.77" text-anchor="end">2.5%</text>
<text x="861.7" y="21.10" text-anchor="end">3.0%</text>
<text x="97.40" y="601.7" text-anchor="middle">0</text>
<text x="882.10" y="600.3" text-anchor="middle">0</text>
<text x="212.62" y="601.7" text-anchor="middle">20000</text>
<text x="993.86" y="600.3" text-anchor="middle">20000</text>
<text x="327.84" y="601.7" text-anchor="middle">40000</text>
<text x="1105.62" y="600.3" text-anchor="middle">40000</text>
<text x="443.06" y="601.7" text-anchor="middle">60000</text>
<text x="1217.38" y="600.3" text-anchor="middle">60000</text>
<text x="558.28" y="601.7" text-anchor="middle">80000</text>
<text x="1329.14" y="600.3" text-anchor="middle">80000</text>
<text x="673.50" y="601.7" text-anchor="middle">100000</text>
<text x="1440.90" y="600.3" text-anchor="middle">100000</text>
<text x="385.4" y="637.7" text-anchor="middle">Tot floor space [m<tspan dy="-6.8" style="font-size:15.6px">2</tspan><tspan dy="6.8">]</tspan></text>
<text x="1161.8" y="636.9" text-anchor="middle">Tot floor space [m<tspan dy="-6.8" style="font-size:15.6px">2</tspan><tspan dy="6.8">]</tspan></text>
<text transform="translate(19.7 291.3) rotate(-90)" text-anchor="middle" style="letter-spacing:-0.08px">Probability of fire</text>
<text transform="translate(798.5 289.3) rotate(-90)" text-anchor="middle" style="letter-spacing:-0.08px">Probability of fire</text>
<text x="370" y="697.5" text-anchor="middle" style="font-weight:bold;font-size:41.5px">(a)</text>
<text x="1147.8" y="700.8" text-anchor="middle" style="font-weight:bold;font-size:41.5px">(b)</text>
</svg>
</body></html>
